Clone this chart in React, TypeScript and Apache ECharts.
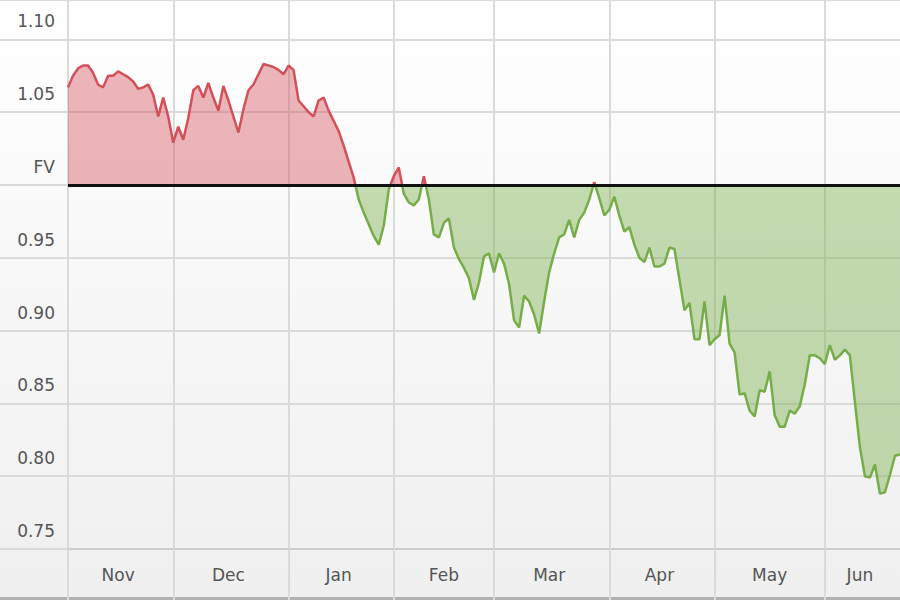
import React, { useEffect, useRef } from 'react';
import * as echarts from 'echarts';

const months = ['Nov', 'Dec', 'Jan', 'Feb', 'Mar', 'Apr', 'May', 'Jun'];
const monthPoints = [21, 23, 21, 20, 23, 21, 22, 16];

const values = [
  1.067, 1.075, 1.080, 1.082, 1.082, 1.077, 1.069, 1.067, 1.075, 1.075,
  1.078, 1.076, 1.074, 1.071, 1.066, 1.067, 1.069, 1.062, 1.047, 1.060,
  1.047, 1.029, 1.040, 1.031, 1.046, 1.065, 1.068, 1.060, 1.070, 1.060,
  1.051, 1.068, 1.058, 1.047, 1.036, 1.052, 1.065, 1.069, 1.076, 1.083,
  1.082, 1.081, 1.079, 1.076, 1.082, 1.079, 1.058, 1.054, 1.050, 1.047,
  1.058, 1.060, 1.051, 1.044, 1.037, 1.027, 1.016, 1.005, 0.990, 0.981,
  0.973, 0.965, 0.959, 0.972, 0.997, 1.006, 1.012, 0.994, 0.988, 0.986,
  0.990, 1.006, 0.990, 0.966, 0.964, 0.974, 0.977, 0.957, 0.949, 0.943,
  0.936, 0.921, 0.933, 0.951, 0.953, 0.940, 0.953, 0.946, 0.932, 0.907,
  0.902, 0.924, 0.920, 0.911, 0.898, 0.920, 0.940, 0.953, 0.964, 0.966,
  0.976, 0.964, 0.976, 0.981, 0.990, 1.002, 0.991, 0.979, 0.983, 0.992,
  0.979, 0.968, 0.971, 0.959, 0.950, 0.947, 0.957, 0.944, 0.944, 0.946,
  0.957, 0.956, 0.935, 0.914, 0.919, 0.894, 0.894, 0.920, 0.890, 0.894,
  0.897, 0.924, 0.891, 0.885, 0.856, 0.857, 0.845, 0.841, 0.859, 0.858,
  0.872, 0.842, 0.834, 0.834, 0.845, 0.843, 0.848, 0.863, 0.883, 0.883,
  0.881, 0.877, 0.890, 0.880, 0.883, 0.887, 0.883, 0.851, 0.820, 0.800,
  0.799, 0.808, 0.788, 0.789, 0.801, 0.814, 0.815,
];

const fvValue = 1;
const yMin = 0.75;
const yMax = 1.127;
const yStep = 0.05;

export default function App() {
  const ref = useRef<HTMLDivElement>(null);

  useEffect(() => {
    const chart = echarts.init(ref.current as HTMLDivElement, null, { renderer: 'svg' });

    const categories: string[] = [];
    const monthStarts = new Set<number>();
    const labelIdx = new Map<number, string>();
    let start = 0;
    months.forEach((m, k) => {
      const n = monthPoints[k];
      monthStarts.add(start);
      const next = start + n;
      const end = k === months.length - 1 ? next - 1 : next;
      labelIdx.set(Math.floor((start + end) / 2), m);
      for (let d = 0; d < n; d++) categories.push(m + ' ' + (d + 1));
      start = next;
    });

    const gridColor = '#dadada';
    const font = 'DejaVu Sans, Verdana, sans-serif';

    const yLabel = (v: number) => {
      if (Math.abs(v - fvValue) < 1e-6) return 'FV';
      const r = v / yStep;
      return Math.abs(r - Math.round(r)) < 1e-6 ? v.toFixed(2) : '';
    };

    chart.setOption({
      animation: false,
      backgroundColor: new echarts.graphic.LinearGradient(0, 0, 0, 1, [
        { offset: 0, color: '#ffffff' },
        { offset: 1, color: '#efefef' },
      ]),
      grid: [
        { left: 68, right: 0, top: 0, bottom: 51 },
        { left: 0, width: 68, top: 0, bottom: 51 },
      ],
      xAxis: [
        {
          type: 'category',
          gridIndex: 0,
          data: categories,
          boundaryGap: false,
          axisLine: { show: true, lineStyle: { color: '#cccccc', width: 2 } },
          axisTick: {
            show: true,
            interval: (i: number) => monthStarts.has(i),
            length: 51,
            lineStyle: { color: gridColor, width: 2 },
          },
          axisLabel: {
            interval: (i: number) => labelIdx.has(i),
            formatter: (_v: string, i: number) => labelIdx.get(i) ?? '',
            color: '#555555',
            fontSize: 17,
            fontFamily: font,
            margin: 17,
          },
          splitLine: {
            show: true,
            interval: (i: number) => monthStarts.has(i),
            lineStyle: { color: gridColor, width: 2 },
          },
        },
        { type: 'value', gridIndex: 1, show: false, min: 0, max: 1 },
      ],
      yAxis: [
        {
          type: 'value',
          gridIndex: 0,
          min: yMin,
          max: yMax,
          interval: yStep,
          axisLine: { show: true, lineStyle: { color: gridColor, width: 2 } },
          axisTick: { show: false },
          axisLabel: {
            formatter: yLabel,
            showMaxLabel: false,
            color: '#555555',
            fontSize: 17,
            fontFamily: font,
            verticalAlign: 'bottom',
            lineHeight: 36,
            margin: 13,
          },
          splitLine: { show: true, lineStyle: { color: gridColor, width: 2 } },
        },
        {
          type: 'value',
          gridIndex: 1,
          min: yMin,
          max: yMax,
          interval: yStep,
          axisLine: { show: false },
          axisTick: { show: false },
          axisLabel: { show: false },
          splitLine: { show: true, lineStyle: { color: gridColor, width: 2 } },
        },
      ],
      visualMap: {
        type: 'piecewise',
        show: false,
        seriesIndex: 0,
        dimension: 1,
        pieces: [
          { gt: fvValue, lte: 10, color: '#d2505a' },
          { gte: 0, lte: fvValue, color: '#76ad48' },
        ],
      },
      graphic: [
        {
          type: 'rect',
          left: 0,
          top: 597,
          shape: { width: 900, height: 3 },
          style: { fill: '#b0b0b0' },
          silent: true,
        },
      ],
      series: [
        {
          type: 'line',
          xAxisIndex: 0,
          yAxisIndex: 0,
          data: values,
          symbol: 'none',
          silent: true,
          lineStyle: { width: 2.5 },
          areaStyle: { origin: fvValue, opacity: 0.42 },
          markLine: {
            silent: true,
            symbol: ['none', 'none'],
            label: { show: false },
            lineStyle: { color: '#111111', width: 3, type: 'solid' },
            data: [{ yAxis: fvValue }],
          },
        },
      ],
    });

    return () => chart.dispose();
  }, []);

  return (
    <div
      ref={ref}
      style={{ position: 'absolute', left: 0, top: 0, width: 900, height: 600 }}
    />
  );
}
